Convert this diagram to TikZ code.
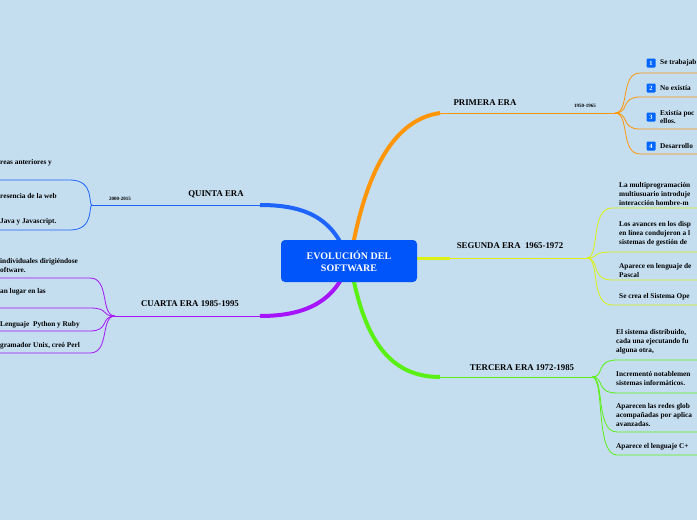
\documentclass[tikz,border=0pt]{standalone}
\usepackage{fontspec}
\setmainfont{Liberation Serif}
\begin{document}
\begin{tikzpicture}[x=1pt,y=-1pt,
 txt/.style={font=\bfseries\fontsize{7.3}{8.8}\selectfont,anchor=west,align=left,inner sep=0},
 lbl/.style={font=\bfseries\fontsize{8.8}{10}\selectfont,inner sep=0},
 yr/.style={font=\bfseries\fontsize{5}{6}\selectfont,inner sep=0},
 num/.style={fill=blue!60!cyan,text=white,font=\bfseries\fontsize{6.5}{6.5}\selectfont,minimum size=9pt,inner sep=0,rounded corners=1pt},
 fan/.style={line width=0.8pt}]
\fill[fill={rgb,255:red,196;green,222;blue,240}] (0,0) rectangle (697,520);
\clip (0,0) rectangle (697,520);
\definecolor{c1}{RGB}{255,150,10}\definecolor{c2}{RGB}{220,240,20}
\definecolor{c3}{RGB}{90,240,20}\definecolor{c5}{RGB}{30,100,250}\definecolor{c4}{RGB}{165,20,250}
\coordinate (p1) at (615,113);\coordinate (p2) at (587,258);\coordinate (p3) at (592,377);
\coordinate (p5) at (92,205);\coordinate (p4) at (115,316);
\draw[c1,line width=4pt] (352,250) .. controls (365,180) and (390,120) .. (440,113);
\draw[c1,line width=1pt] (440,113) -- (p1);
\draw[c2,line width=3pt] (390,258) -- (450,258);\draw[c2,line width=1pt] (450,258) -- (p2);
\draw[c3,line width=4pt] (352,272) .. controls (365,340) and (390,377) .. (440,377);
\draw[c3,line width=1pt] (440,377) -- (p3);
\draw[c5,line width=4pt] (345,252) .. controls (330,215) and (300,205) .. (260,205);
\draw[c5,line width=1pt] (260,205) -- (p5);
\draw[c4,line width=4pt] (345,272) .. controls (330,305) and (300,316) .. (260,316);
\draw[c4,line width=1pt] (260,316) -- (p4);
\node[fill={rgb,255:red,0;green,85;blue,250},rounded corners=4pt,minimum width=136pt,minimum height=42pt,text=white,font=\bfseries\fontsize{10}{12}\selectfont,align=center] (c) at (349,261) {EVOLUCIÓN DEL\\SOFTWARE};
\node[lbl] (l1) at (485,103) {PRIMERA ERA};\node[yr] at (585,106) {1950-1965};
\node[lbl] (l2) at (510,246) {SEGUNDA ERA\ \ 1965-1972};
\node[lbl] (l3) at (522,368) {TERCERA ERA 1972-1985};
\node[lbl] (l5) at (216,194) {QUINTA ERA};\node[yr] at (120,199) {2000-2015};
\node[lbl] (l4) at (190,304) {CUARTA ERA 1985-1995};
\foreach \y in {73,97,129,154}{\draw[c1,fan] (p1) .. controls (630,113) and (620,\y) .. (640,\y) -- (697,\y);}
\foreach \y in {208,252,280,305}{\draw[c2,fan] (p2) .. controls (600,258) and (590,\y) .. (612,\y) -- (697,\y);}
\foreach \y in {360,393,432,455}{\draw[c3,fan] (p3) .. controls (605,377) and (595,\y) .. (617,\y) -- (697,\y);}
\foreach \y in {180,230}{\draw[c5,fan] (p5) .. controls (88,205) and (95,\y) .. (70,\y) -- (0,\y);}
\foreach \y in {278,308,331,353}{\draw[c4,fan] (p4) .. controls (100,316) and (110,\y) .. (90,\y) -- (0,\y);}
\node[num] at (651,63) {1};\node[txt] at (660,63) {Se trabajab};
\node[num] at (651,88) {2};\node[txt] at (660,88) {No existía};
\node[num] at (651,117) {3};\node[txt] at (660,117) {Existía poc\\ellos.};
\node[num] at (651,146) {4};\node[txt] at (660,146) {Desarrollo};
\node[txt] at (619,194) {La multiprogramación\\multiusuario introduje\\interacción hombre-m};
\node[txt] at (619,234) {Los avances en los disp\\en línea condujeron a l\\sistemas de gestión de};
\node[txt] at (619,270.5) {Aparece en lenguaje de\\Pascal};
\node[txt] at (619,297) {Se crea el Sistema Ope};
\node[txt] at (616,342) {El sistema distribuido,\\cada una ejecutando fu\\alguna otra,};
\node[txt] at (616,378.5) {Incrementó notablemen\\sistemas informáticos.};
\node[txt] at (616,415) {Aparecen las redes glob\\acompañadas por aplica\\avanzadas.};
\node[txt] at (616,447) {Aparece el lenguaje C+};
\node[txt] at (0,163) {reas anteriores y};
\node[txt] at (0,196) {resencia de la web};
\node[txt] at (0,222) {Java y Javascript.};
\node[txt] at (0,265.5) {individuales dirigiéndose\\oftware.};
\node[txt] at (0,292) {an lugar en las};
\node[txt] at (0,325) {Lenguaje\ \ Python y Ruby};
\node[txt] at (0,346) {gramador Unix, creó Perl};
\end{tikzpicture}
\end{document}
